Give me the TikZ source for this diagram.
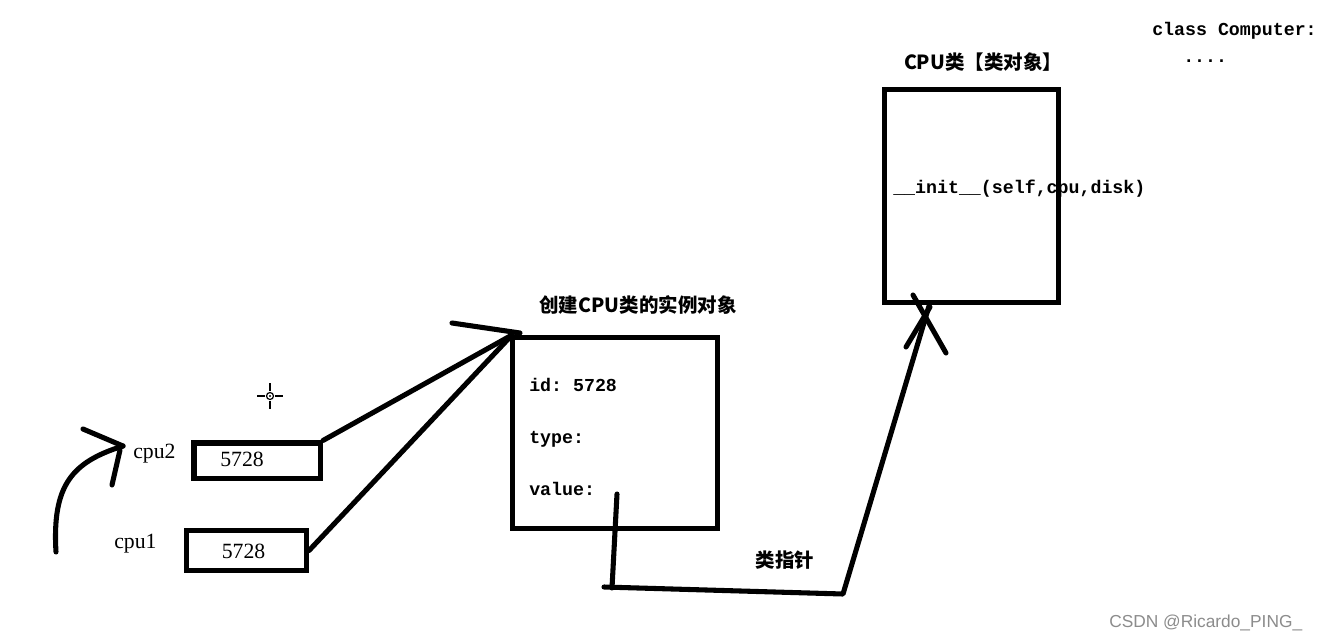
\documentclass[tikz,border=0pt]{standalone}
\usepackage{fontspec}
\setmainfont{Liberation Serif}
\setmonofont{Liberation Mono}
\setsansfont{Liberation Sans}
\newfontfamily\cjkfont{Noto Sans CJK SC}
\usetikzlibrary{fit}
\begin{document}
\begin{tikzpicture}[x=0.75pt,y=-0.75pt,
  membox/.style={draw,line width=3.8pt,inner sep=0pt,rectangle},
  conn/.style={line width=3.8pt,line cap=round,line join=round},
  codetext/.style={font=\ttfamily\bfseries\fontsize{13.7}{16}\selectfont,inner sep=0pt},
  numtext/.style={font=\fontsize{16.3}{19}\selectfont,inner sep=0pt},
  cjktext/.style={font=\cjkfont\bfseries\fontsize{14.6}{17}\selectfont,inner sep=0pt},
  marktext/.style={font=\sffamily\fontsize{13}{16}\selectfont,text=black!45,inner sep=0pt}]
\fill[white] (0,0) rectangle (1318,643);
\useasboundingbox (0,0) rectangle (1318,643);

% boxes
\node[membox,fit={(194,443)(320.5,478.5)}] (b2) {};
\node[membox,fit={(186.5,530.5)(306.5,570.5)}] (b1) {};
\node[membox,fit={(512.5,337.5)(717.5,528.5)}] (inst) {};
\node[membox,fit={(884.5,89.5)(1058.5,302.5)}] (cls) {};

% texts
\node[numtext,anchor=base] (v2) at (242,466) {5728};
\node[numtext,anchor=base] (v1) at (243.5,558) {5728};
\node[numtext,anchor=base west] (l2) at (133,458) {cpu2};
\node[numtext,anchor=base west] (l1) at (114,548) {cpu1};
\node[cjktext] (ti) at (638,305) {创建CPU类的实例对象};
\node[codetext,anchor=base west] (id) at (529,391) {id: 5728};
\node[codetext,anchor=base west] (ty) at (529,443) {type:};
\node[codetext,anchor=base west] (va) at (529,495) {value:};
\node[cjktext] (tc) at (983,62) {CPU类【类对象】};
\node[codetext,anchor=base west] (init) at (893,193) {\_\_init\_\_(self,cpu,disk)};
\node[codetext,anchor=base west] (cc) at (1152,35) {class Computer:};
\node[codetext,anchor=base west] (dots) at (1183,62) {....};
\node[cjktext] (ptr) at (785,560) {类指针};
\node[marktext,anchor=west] (wm) at (1109,623) {CSDN @Ricardo\_PING\_};

% connectors to instance
\coordinate (tip) at (512,335);
\coordinate (tipa) at (520,333);
\coordinate (tail) at (452,323);
\draw[conn] (b2.north east) -- (tip);
\draw[conn] (b1.east) -- (tip);
\draw[conn] (tail) -- (tipa);

% class pointer
\coordinate (p0) at (617,494);
\coordinate (p1) at (612,588);
\coordinate (p1s) at (604,587);
\coordinate (p2) at (843,594);
\coordinate (ctip) at (929,306);
\coordinate (ha) at (913,295);
\coordinate (hb) at (946,353);
\coordinate (hc) at (930,307);
\coordinate (hd) at (906,347);
\draw[conn] (p0) -- (p1);
\draw[conn] (p1s) -- (p2) -- (ctip);
\draw[conn] (ha) -- (hb);
\draw[conn] (hc) -- (hd);

% curved arrow
\coordinate (c0) at (56,552);
\coordinate (c1) at (123,446);
\coordinate (ca) at (83,429);
\coordinate (cb) at (112,485);
\coordinate (cb2) at (120,450);
\draw[conn] (c0) .. controls (52,485) and (72,462) .. (c1);
\draw[conn] (ca) -- (c1);
\draw[conn] (cb) -- (cb2);

% crosshair cursor
\coordinate (xc) at (270,396);
\draw[line width=1.3pt] (257,396) -- (265,396) (275,396) -- (283,396)
  (270,383) -- (270,391) (270,401) -- (270,409);
\draw[line width=0.9pt] (xc) circle[radius=3.5];
\fill (xc) circle[radius=1.1];
\end{tikzpicture}
\end{document}
